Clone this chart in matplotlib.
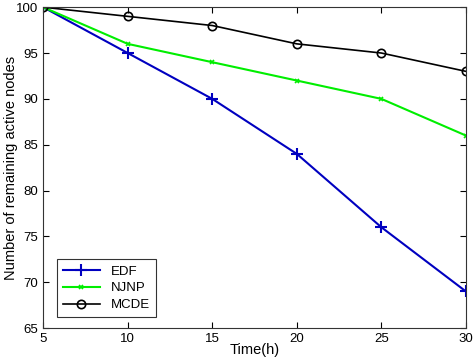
import matplotlib
matplotlib.use('Agg')
import matplotlib.pyplot as plt

plt.rcParams['font.family'] = ['Liberation Sans', 'DejaVu Sans']

# data
time_h = [5, 10, 15, 20, 25, 30]
edf = [100, 95, 90, 84, 76, 69]
njnp = [100, 96, 94, 92, 90, 86]
mcde = [100, 99, 98, 96, 95, 93]

fig = plt.figure(figsize=(4.74, 3.59), dpi=100)
ax = fig.add_axes([0.091, 0.086, 0.892, 0.894])

ax.plot(time_h, edf, color='#0000c0', marker='+', markersize=8, markeredgewidth=1.5,
        linewidth=1.5, label='EDF')
ax.plot(time_h, njnp, color='#00ee00', marker='x', markersize=3, markeredgewidth=1.2,
        linewidth=1.5, label='NJNP')
ax.plot(time_h, mcde, color='black', marker='o', markersize=6, markerfacecolor='none',
        markeredgewidth=1.2, linewidth=1.2, label='MCDE')

ax.set_xlim(5, 30)
ax.set_ylim(65, 100)
ax.set_xticks([5, 10, 15, 20, 25, 30])
ax.set_yticks([65, 70, 75, 80, 85, 90, 95, 100])
ax.tick_params(direction='in', top=True, right=True, labelsize=9.5, length=4)
for s in ax.spines.values():
    s.set_color('#333333')
ax.set_xlabel('Time(h)', fontsize=10.5, va='center')
ax.set_ylabel('Number of remaining active nodes', fontsize=10.5, va='center')
ax.xaxis.set_label_coords(0.5, -0.069)
ax.yaxis.set_label_coords(-0.077, 0.5)

leg = ax.legend(loc='lower left', bbox_to_anchor=(0.033, 0.034), fancybox=False,
                edgecolor='black', fontsize=9.5, handlelength=2.8, borderpad=0.45,
                labelspacing=0.35, borderaxespad=0)
leg.get_frame().set_linewidth(0.8)

plt.savefig('out.png', dpi=100)
